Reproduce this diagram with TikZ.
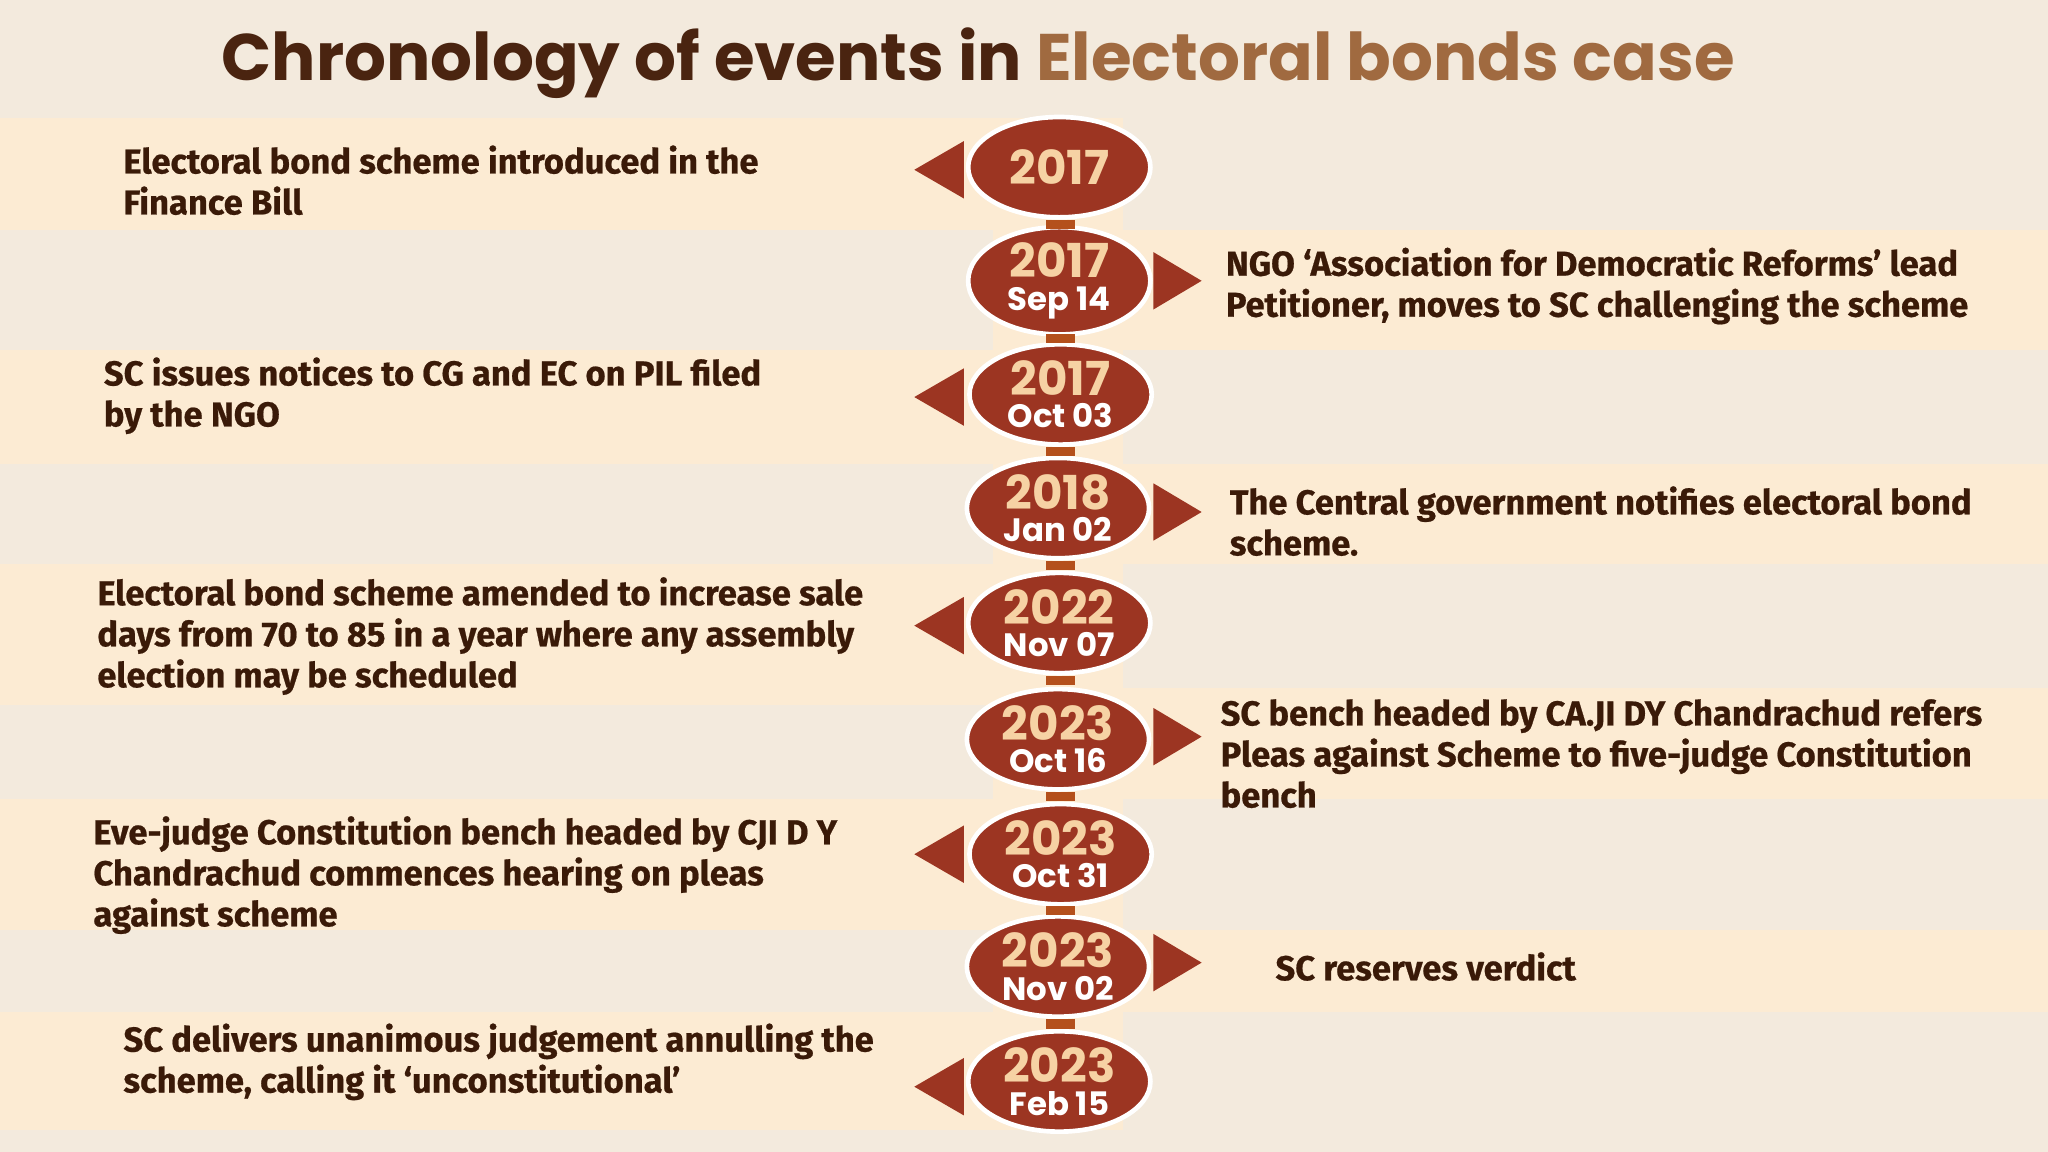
\documentclass[tikz,border=0pt]{standalone}
\usepackage{fontspec}
\setmainfont{Fira Sans}[FakeBold=0.6]
\newfontfamily\titlefont{Poppins}
\definecolor{bgc}{HTML}{F3EADD}
\definecolor{band}{HTML}{FCEBD3}
\definecolor{txt}{HTML}{3A1A08}
\definecolor{ell}{HTML}{9C3522}
\definecolor{yr}{HTML}{F6D2A4}
\definecolor{conn}{HTML}{B4501C}
\definecolor{ttl}{HTML}{4A2410}
\definecolor{ttl2}{HTML}{A06A40}
\tikzset{
 evt/.style={ellipse,fill=ell,draw=white,line width=1.3pt,minimum width=1.78cm,minimum height=0.98cm,inner sep=0pt,align=center,text=white},
 lbl/.style={anchor=west,align=left,text=txt,font=\bfseries\fontsize{9.6}{11.4}\selectfont,inner sep=0pt},
 tri/.style={fill=ell},
 link/.style={fill=conn}
}
\usetikzlibrary{shapes.geometric}
\newcommand{\yrtext}[2]{{\titlefont\bfseries\fontsize{13}{13}\selectfont\color{yr}#1}\\[-3pt]{\titlefont\bfseries\fontsize{9}{9}\selectfont #2}}
\begin{document}
\begin{tikzpicture}[x=0.012755cm,y=-0.012755cm]
\fill[bgc] (0,0) rectangle (1568,882);
\useasboundingbox (0,0) rectangle (1568,882);
% bands
\fill[band] (0,90) rectangle (860,176);
\fill[band] (760,176) rectangle (1568,268);
\fill[band] (0,268) rectangle (860,355);
\fill[band] (760,355) rectangle (1568,432);
\fill[band] (0,432) rectangle (860,540);
\fill[band] (760,527) rectangle (1568,612);
\fill[band] (0,612) rectangle (860,712);
\fill[band] (760,712) rectangle (1568,775);
\fill[band] (0,775) rectangle (860,865);
% title
\node[anchor=center,font=\titlefont\bfseries\fontsize{18.3}{22}\selectfont] (title) at (749,48) {\textcolor{ttl}{Chronology of events in} \textcolor{ttl2}{Electoral bonds case}};
% ellipses
\node[evt] (e1) at (811,128) {{\titlefont\bfseries\fontsize{13}{13}\selectfont\color{yr}2017}};
\node[evt] (e2) at (811,215) {\yrtext{2017}{Sep 14}};
\node[evt] (e3) at (812,302) {\yrtext{2017}{Oct 03}};
\node[evt] (e4) at (810,389) {\yrtext{2018}{Jan 02}};
\node[evt] (e5) at (811,477) {\yrtext{2022}{Nov 07}};
\node[evt] (e6) at (810,566) {\yrtext{2023}{Oct 16}};
\node[evt] (e7) at (812,654) {\yrtext{2023}{Oct 31}};
\node[evt] (e8) at (810,740) {\yrtext{2023}{Nov 02}};
\node[evt] (e9) at (811,828) {\yrtext{2023}{Feb 15}};
% connectors
\foreach \y in {172,259,346,433,521,610,697,784}{\fill[link] (801,\y-3.5) rectangle (823,\y+3.5);}
% triangles
\foreach \y in {130,304,479,654,832}{\fill[tri] (738,\y-22) -- (700,\y) -- (738,\y+22) -- cycle;}
\foreach \y in {215,392,564,737}{\fill[tri] (883,\y-22) -- (920,\y) -- (883,\y+22) -- cycle;}
% labels
\node[lbl] (t1) at (94,138) {Electoral bond scheme introduced in the\\Finance Bill};
\node[lbl] (t2) at (938,219) {NGO ‘Association for Democratic Reforms’ lead\\Petitioner, moves to SC challenging the scheme};
\node[lbl] (t3) at (79,303) {SC issues notices to CG and EC on PIL filed\\by the NGO};
\node[lbl] (t4) at (941,399) {The Central government notifies electoral bond\\scheme.};
\node[lbl] (t5) at (74,487) {Electoral bond scheme amended to increase sale\\days from 70 to 85 in a year where any assembly\\election may be scheduled};
\node[lbl] (t6) at (934,577) {SC bench headed by CA.JI DY Chandrachud refers\\Pleas against Scheme to five-judge Constitution\\bench};
\node[lbl] (t7) at (71,670) {Eve-judge Constitution bench headed by CJI D Y\\Chandrachud commences hearing on pleas\\against scheme};
\node[lbl] (t8) at (976,740) {SC reserves verdict};
\node[lbl] (t9) at (94,813) {SC delivers unanimous judgement annulling the\\scheme, calling it ‘unconstitutional’};
\end{tikzpicture}
\end{document}
